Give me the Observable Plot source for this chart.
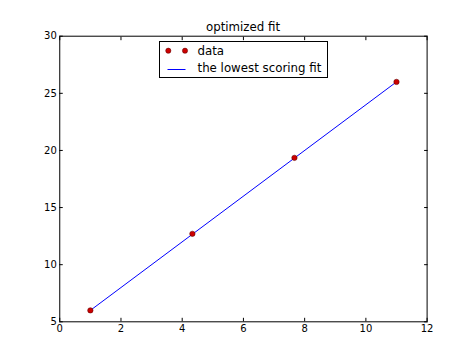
<!DOCTYPE html>
<html>
<head>
<meta charset="utf-8">
<script src="https://cdn.jsdelivr.net/npm/d3@7"></script>
<script src="https://cdn.jsdelivr.net/npm/@observablehq/plot@0.6"></script>
<style>
  html, body { margin: 0; padding: 0; background: #fff; }
  #wrap { position: relative; width: 474px; height: 357px; font-family: "DejaVu Sans", sans-serif; }
  #overlay { position: absolute; left: 0; top: 0; pointer-events: none; }
  #overlay text { font-family: "DejaVu Sans", sans-serif; fill: #000; }
</style>
</head>
<body>
<div id="wrap">
  <div id="chart"></div>
  <svg id="overlay" width="474" height="357" xmlns="http://www.w3.org/2000/svg">
    <text x="243" y="31" text-anchor="middle" font-size="11.8">optimized fit</text>
    <rect x="159.5" y="41.5" width="168" height="36" fill="#fff" stroke="#000" stroke-width="1"/>
    <circle cx="168.3" cy="50.7" r="2.6" fill="#cc0000" stroke="#550000" stroke-width="0.5"/>
    <circle cx="185" cy="50.7" r="2.6" fill="#cc0000" stroke="#550000" stroke-width="0.5"/>
    <text x="197.5" y="55.3" font-size="11.8">data</text>
    <line x1="167.5" x2="185.5" y1="69.5" y2="69.5" stroke="#0000ff" stroke-width="1"/>
    <text x="197.5" y="72" font-size="11.8">the lowest scoring fit</text>
  </svg>
</div>
<script>
const dataX = [1, 4.333, 7.667, 11];
const dataY = [6, 12.7, 19.35, 26];
const fitX = [1, 11];
const fitY = [6, 26];
const xTicks = [0, 2, 4, 6, 8, 10, 12];
const yTicks = [5, 10, 15, 20, 25, 30];

const points = dataX.map((x, i) => ({x, y: dataY[i]}));
const fit = fitX.map((x, i) => ({x, y: fitY[i]}));

const chart = Plot.plot({
  width: 474,
  height: 357,
  marginLeft: 59.25,
  marginRight: 47.4,
  marginTop: 35.7,
  marginBottom: 35.7,
  style: {fontFamily: "DejaVu Sans, sans-serif", fontSize: "10px", color: "#000", background: "#fff"},
  x: {domain: [0, 12]},
  y: {domain: [5, 30]},
  marks: [
    Plot.axisX(xTicks, {anchor: "bottom", tickSize: 0, tickPadding: 3, label: null}),
    Plot.axisX(xTicks, {anchor: "bottom", tickSize: -3.5, text: null, label: null}),
    Plot.axisX(xTicks, {anchor: "top", tickSize: -3.5, text: null, label: null}),
    Plot.axisY(yTicks, {anchor: "left", tickSize: 0, tickPadding: 3, label: null}),
    Plot.axisY(yTicks, {anchor: "left", tickSize: -3.5, text: null, label: null}),
    Plot.axisY(yTicks, {anchor: "right", tickSize: -3.5, text: null, label: null}),
    Plot.line(fit, {x: "x", y: "y", stroke: "#0000ff", strokeWidth: 1}),
    Plot.dot(points, {x: "x", y: "y", r: 2.7, fill: "#cc0000", stroke: "#550000", strokeWidth: 0.5}),
    Plot.frame({stroke: "#000", strokeWidth: 1})
  ]
});
document.getElementById("chart").appendChild(chart);
</script>
</body>
</html>
